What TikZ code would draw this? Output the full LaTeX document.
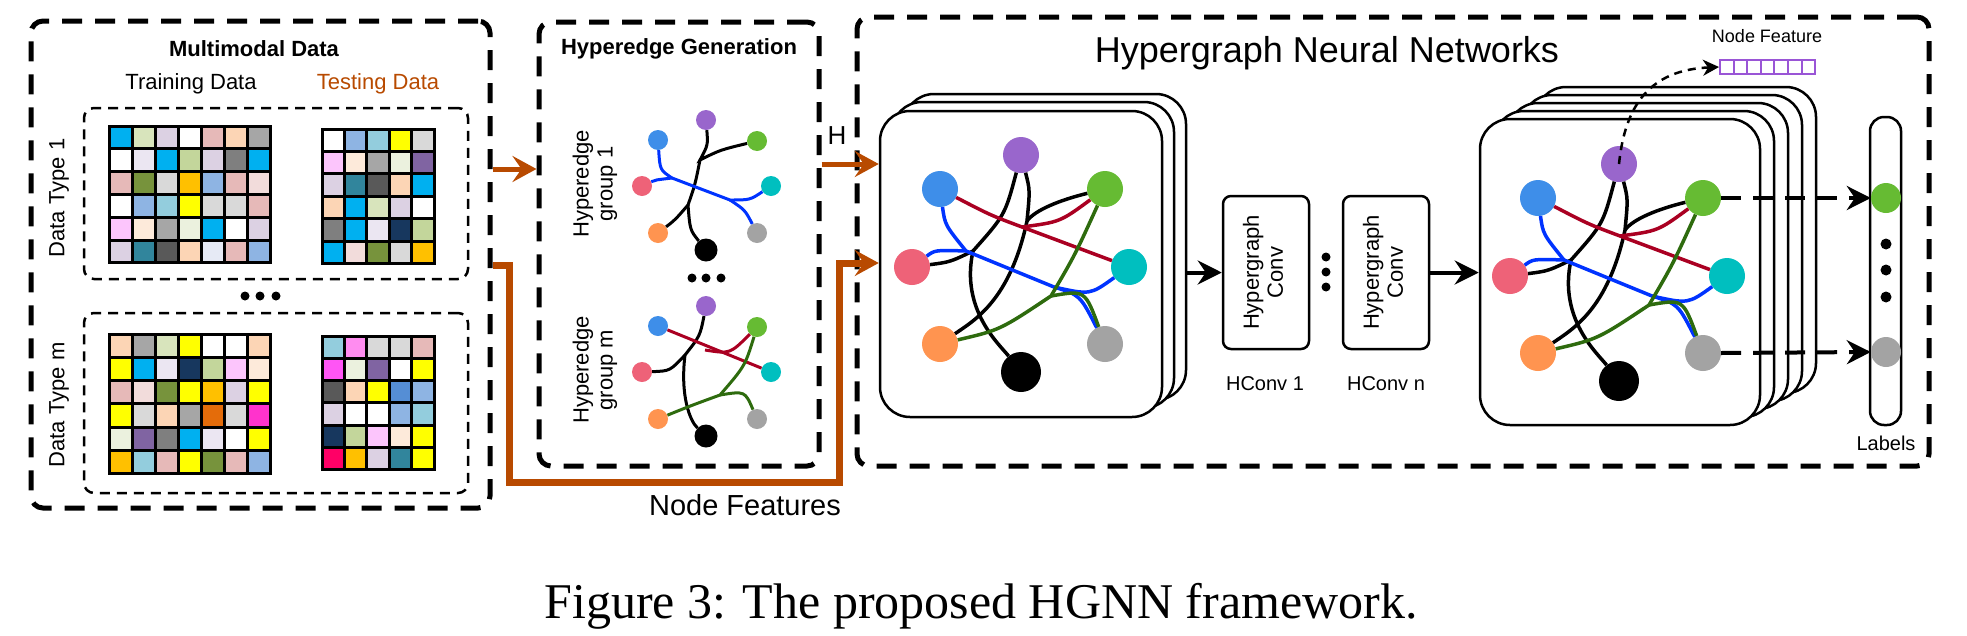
\documentclass[tikz,border=0pt]{standalone}
\usepackage{fontspec}
\setmainfont{Liberation Sans}
\newfontfamily\capfont{Liberation Serif}
\usetikzlibrary{arrows.meta}

% cell colours
\definecolor{cy}{HTML}{00B0F0}\definecolor{lgr}{HTML}{D8E4BC}\definecolor{lav}{HTML}{DCD1E3}
\definecolor{wht}{HTML}{FFFFFF}\definecolor{ros}{HTML}{E6B9B8}\definecolor{pch}{HTML}{FCD5B5}
\definecolor{gA}{HTML}{A6A6A6}\definecolor{plav}{HTML}{EBE6F2}\definecolor{sag}{HTML}{C3D69B}
\definecolor{gS}{HTML}{7F7F7F}\definecolor{oli}{HTML}{77933C}\definecolor{lgy}{HTML}{D9D9D9}
\definecolor{amb}{HTML}{FFC000}\definecolor{blu}{HTML}{8EB4E3}\definecolor{prs}{HTML}{F2DCDB}
\definecolor{lbl}{HTML}{93CDDD}\definecolor{yel}{HTML}{FFFF00}\definecolor{pnk}{HTML}{FCC5FC}
\definecolor{crm}{HTML}{FDEADA}\definecolor{pgr}{HTML}{EBF1DE}\definecolor{tea}{HTML}{31859C}
\definecolor{dg}{HTML}{595959}\definecolor{pbl}{HTML}{E6EAF5}\definecolor{pur}{HTML}{8064A2}
\definecolor{nav}{HTML}{17375E}\definecolor{org}{HTML}{E46C0A}\definecolor{mag}{HTML}{FF33CC}
\definecolor{vio}{HTML}{FF8CF0}\definecolor{mgb}{HTML}{FF55F5}\definecolor{mbl}{HTML}{558ED5}
\definecolor{crim}{HTML}{FF0066}
% graph colours
\definecolor{nBlue}{HTML}{3E8EE9}\definecolor{nPurple}{HTML}{9966CC}\definecolor{nGreen}{HTML}{66BB33}
\definecolor{nPink}{HTML}{EE6278}\definecolor{nCyan}{HTML}{00BFBF}\definecolor{nOrange}{HTML}{FF9450}
\definecolor{nGrey}{HTML}{A3A3A3}
\definecolor{eRed}{HTML}{AA0022}\definecolor{eBlue}{HTML}{0033FF}\definecolor{eGreen}{HTML}{2E6B0E}
\definecolor{arrOr}{HTML}{B84A00}\definecolor{featPur}{HTML}{9A55D6}

\newcommand{\cellgrid}[5]{%
  \foreach \row [count=\j from 0] in {#5} {
    \foreach \c [count=\i from 0] in \row {
      \filldraw[fill=\c, draw=black, line width=3]
        ({#1+\i*#3},{#2+\j*#4}) rectangle ++(#3,#4);
    }}}

% big hypergraph, prefix #1
\newcommand{\biggraph}[1]{%
  \node[bn, fill=nPurple] (#1pu) at (1021,155) {};
  \node[bn, fill=nBlue]   (#1bl) at (940,189) {};
  \node[bn, fill=nGreen]  (#1gr) at (1105,189) {};
  \node[bn, fill=nPink]   (#1pk) at (912,267) {};
  \node[bn, fill=nCyan]   (#1cy) at (1129,267) {};
  \node[bn, fill=nOrange] (#1or) at (940,344) {};
  \node[bn, fill=nGrey]   (#1gy) at (1105,344) {};
  \node[bn, fill=black, minimum size=40] (#1bk) at (1021,372) {};
  \coordinate (#1ja) at (973,251);
  \coordinate (#1jb) at (1027,221);
  \coordinate (#1jr) at (1022,227);
  \coordinate (#1jl) at (966,251);
  \coordinate (#1jm) at (1054,287);
  \coordinate (#1jg) at (1051,296);
  \begin{scope}[line width=3.5]
    \draw[black] (#1pu) .. controls (1005,215) .. (#1ja) .. controls (950,262) .. (#1pk);
    \draw[black] (#1ja) .. controls (960,310) and (1000,345) .. (#1bk);
    \draw[black] (#1gr) .. controls (1060,200) and (1035,210) .. (#1jb);
    \draw[black] (#1pu) .. controls (1030,190) .. (#1jb) .. controls (1010,300) and (975,320) .. (#1or);
    \draw[eRed] (#1bl) .. controls (990,215) .. (#1jr) -- (#1cy);
    \draw[eRed] (#1jr) .. controls (1060,222) .. (#1gr);
    \draw[eBlue] (#1bl) .. controls (945,225) .. (#1jl) .. controls (935,250) .. (#1pk);
    \draw[eBlue] (#1jl) -- (#1jm) .. controls (1090,295) .. (#1cy);
    \draw[eBlue] (#1jm) .. controls (1080,295) .. (#1gy);
    \draw[eGreen] (#1or) .. controls (1000,330) .. (#1jg) .. controls (1075,255) .. (#1gr);
    \draw[eGreen] (#1jg) .. controls (1085,290) .. (#1gy);
  \end{scope}
  \foreach \n in {pu,bl,gr,pk,cy,or,gy,bk} \node[bn, fill=none] at (#1\n) {};
}

% small hypergraph nodes, prefix #1
\newcommand{\smallnodes}[1]{%
  \node[sn, fill=nPurple] (#1pu) at (706,0) {};
  \node[sn, fill=nBlue]   (#1bl) at (658,20) {};
  \node[sn, fill=nGreen]  (#1gr) at (757,21) {};
  \node[sn, fill=nPink]   (#1pk) at (642,66) {};
  \node[sn, fill=nCyan]   (#1cy) at (771,66) {};
  \node[sn, fill=nOrange] (#1or) at (658,113) {};
  \node[sn, fill=nGrey]   (#1gy) at (757,113) {};
  \node[sn, fill=black, minimum size=23] (#1bk) at (706,130) {};
}

\tikzset{
  bn/.style={circle, inner sep=0, minimum size=36},
  sn/.style={circle, inner sep=0, minimum size=20},
  dbox/.style={draw, line width=5, dash pattern=on 20 off 13, rounded corners=12, inner sep=0},
  ibox/.style={draw, line width=2.5, dash pattern=on 10 off 7, rounded corners=10, inner sep=0},
  layer/.style={draw, fill=white, line width=2.5, rounded corners=30},
  conv/.style={draw, line width=2.5, rounded corners=8, minimum width=86, minimum height=153, inner sep=0},
  orarr/.style={arrOr, -{Stealth[length=24,width=26,inset=9]}},
  blarr/.style={black, line width=4, -{Stealth[length=24,width=24,inset=8]}},
  dots/.style={circle, fill=black, inner sep=0, minimum size=9},
}

\begin{document}
\begin{tikzpicture}[x=1pt, y=-1pt]
\useasboundingbox (0,0) rectangle (1967,635);

% ---- big dashed frames
\node[dbox, minimum width=459, minimum height=487] (mm) at (260.5,264.5) {};
\node[dbox, minimum width=280, minimum height=444] (hg) at (679,244) {};
\node[dbox, minimum width=1072, minimum height=449] (hn) at (1393,241.5) {};

% ---- multimodal data
\node[font=\fontsize{22}{26}\selectfont\bfseries] (t-mm) at (254,49) {Multimodal Data};
\node[font=\fontsize{22}{26}\selectfont] (t-tr) at (191,84) {Training Data};
\node[font=\fontsize{22}{26}\selectfont, text=arrOr] (t-te) at (378,84) {Testing Data};
\node[ibox, minimum width=384, minimum height=171] (d1) at (276,193.5) {};
\node[ibox, minimum width=384, minimum height=180] (dm) at (276,403) {};
\node[font=\fontsize{22}{26}\selectfont, rotate=90] (t-d1) at (59,198) {Data Type 1};
\node[font=\fontsize{22}{26}\selectfont, rotate=90] (t-dm) at (59,405) {Data Type m};
\foreach \x [count=\k] in {245,260,276} \node[dots] (md\k) at (\x,296) {};

\cellgrid{109}{126}{23}{22.8}{
  {cy,lgr,lav,wht,ros,pch,gA},
  {wht,plav,cy,sag,lav,gS,cy},
  {ros,oli,lgy,amb,blu,ros,prs},
  {wht,blu,lbl,yel,lgy,lgy,ros},
  {pnk,crm,gA,pgr,cy,wht,lav},
  {lav,tea,dg,pch,pbl,ros,blu}}
\cellgrid{322}{129}{22.4}{22.4}{
  {wht,blu,lbl,yel,lgy},
  {pnk,crm,gA,pgr,pur},
  {lav,tea,dg,pch,cy},
  {pch,cy,lgr,lav,wht},
  {gS,cy,plav,nav,sag},
  {cy,prs,oli,lgy,amb}}
\cellgrid{109}{334}{23}{23.3}{
  {pch,gA,lgr,yel,wht,wht,pch},
  {yel,cy,plav,nav,sag,pnk,crm},
  {ros,prs,oli,yel,amb,lav,yel},
  {yel,lgy,pch,gA,org,lgy,mag},
  {pgr,pur,gS,cy,plav,wht,yel},
  {amb,lbl,ros,yel,oli,ros,blu}}
\cellgrid{322}{336}{22.4}{22.3}{
  {lbl,vio,lgy,lgy,ros},
  {mgb,pgr,pur,wht,yel},
  {dg,pch,yel,mbl,blu},
  {lav,wht,wht,blu,lbl},
  {nav,sag,pnk,crm,yel},
  {crim,amb,lav,tea,yel}}

% ---- hyperedge generation
\node[font=\fontsize{22}{26}\selectfont\bfseries] (t-hg) at (679,49) {Hyperedge Generation};
\node[font=\fontsize{22}{24}\selectfont, rotate=90, align=center] (t-g1) at (595,184) {Hyperedge\\group 1};
\node[font=\fontsize{22}{24}\selectfont, rotate=90, align=center] (t-gm) at (595,370) {Hyperedge\\group m};
\foreach \x [count=\k] in {692,706,721} \node[dots] (hd\k) at (\x,278) {};

\begin{scope}[shift={(0,120)}]
  \smallnodes{a}
  \coordinate (aj1) at (700,160-120);
  \coordinate (aj2) at (688,205-120);
  \coordinate (aj3) at (672,178-120);
  \coordinate (aj4) at (730,200-120);
  \begin{scope}[line width=3]
    \draw (apu) .. controls (708,25) .. (aj1) .. controls (720,30) .. (agr);
    \draw (aj1) .. controls (695,65) .. (aj2) .. controls (675,100) .. (aor);
    \draw (aj2) .. controls (690,110) .. (abk);
    \draw[eBlue] (abl) .. controls (660,50) .. (aj3) .. controls (655,60) .. (apk);
    \draw[eBlue] (aj3) -- (aj4) .. controls (750,80) .. (acy);
    \draw[eBlue] (aj4) .. controls (745,90) .. (agy);
  \end{scope}
\end{scope}

\begin{scope}[shift={(0,306)}]
  \smallnodes{b}
  \coordinate (bj1) at (685,49);
  \coordinate (bj2) at (705,44);
  \coordinate (bj3) at (720,89);
  \begin{scope}[line width=3]
    \draw (bpu) .. controls (700,30) .. (bj1) .. controls (670,65) .. (bpk);
    \draw (bj1) .. controls (680,90) and (690,115) .. (bbk);
    \draw[eRed] (bbl) -- (bcy);
    \draw[eRed] (bj2) .. controls (730,48) .. (bgr);
    \draw[eGreen] (bor) .. controls (690,100) .. (bj3) .. controls (745,60) .. (bgr);
    \draw[eGreen] (bj3) .. controls (745,85) .. (bgy);
  \end{scope}
\end{scope}

% ---- HGNN
\node[font=\fontsize{36}{40}\selectfont] (t-hn) at (1327,53) {Hypergraph Neural Networks};

% stack 1
\node[layer, minimum width=282, minimum height=306] (s1c) at (1045,247) {};
\node[layer, minimum width=282, minimum height=306] (s1b) at (1033,255) {};
\node[layer, minimum width=282, minimum height=306] (s1) at (1021,264) {};
\biggraph{p}

% conv blocks
\node[conv, font=\fontsize{22}{24}\selectfont] (hc1) at (1266,272.5) {\rotatebox{90}{\begin{tabular}{@{}c@{}}Hypergraph\\Conv\end{tabular}}};
\node[conv, font=\fontsize{22}{24}\selectfont] (hcn) at (1386,272.5) {\rotatebox{90}{\begin{tabular}{@{}c@{}}Hypergraph\\Conv\end{tabular}}};
\node[font=\fontsize{20}{24}\selectfont] (t-c1) at (1265,384) {HConv 1};
\node[font=\fontsize{20}{24}\selectfont] (t-cn) at (1386,384) {HConv n};
\foreach \y [count=\k] in {257,272,287} \node[dots] (cd\k) at (1326,\y) {};

% stack 2
\foreach \k in {4,3,2,1}
  \node[layer, minimum width=280, minimum height=306] (s2l\k) at ({1620+14*\k},{272-8*\k}) {};
\node[layer, minimum width=280, minimum height=306] (s2) at (1620,272) {};
\begin{scope}[shift={(598,9)}]
  \biggraph{q}
\end{scope}

% labels column
\node[draw, line width=2.5, rounded corners=14, minimum width=31, minimum height=308, inner sep=0] (lab) at (1885.5,271) {};
\node[circle, fill=nGreen, inner sep=0, minimum size=30] (lgr) at (1886,198) {};
\node[circle, fill=nGrey, inner sep=0, minimum size=30] (lgy) at (1886,352) {};
\foreach \y [count=\k] in {244,270,297} \node[dots, minimum size=11] (ld\k) at (1886,\y) {};
\node[font=\fontsize{20}{24}\selectfont] (t-lab) at (1886,443) {Labels};

% node feature
\node[font=\fontsize{18}{22}\selectfont] (t-nf) at (1767,36) {Node Feature};
\foreach \k in {0,...,6}
  \draw[featPur, line width=2] ({1720+\k*13.6},60) rectangle ++(13.6,14);
\coordinate (fv) at (1719,67);
\draw[line width=2.5, dash pattern=on 8 off 6, -{Stealth[length=16,width=16,inset=5]}]
  (qpu.center) .. controls (1625,105) and (1650,70) .. (fv);

% ---- connectors
\coordinate (h1) at (0,169);
\coordinate (h2) at (0,164);
\coordinate (f1) at (0,265);
\coordinate (f2) at (0,263);
\draw[orarr, line width=5] (mm.east |- h1) -- (hg.west |- h1);
\draw[orarr, line width=5] (hg.east |- h2) -- (s1.west |- h2);
\node[font=\fontsize{26}{30}\selectfont] (t-h) at (837,136) {H};
\draw[orarr, line width=7, line join=miter] (mm.east |- f1) -- (509,265) -- (509,482) -- (839,482) -- (839,263) -- (s1.west |- f2);
\node[font=\fontsize{29}{32}\selectfont] (t-nfs) at (745,505) {Node Features};

\draw[blarr] (s1c.east |- hc1) -- (hc1.west);
\draw[blarr] (hcn.east) -- (s2.west |- hcn);
\draw[blarr, dash pattern=on 20 off 12] (qgr.east) -- (lgr.west);
\draw[blarr, dash pattern=on 20 off 12] (qgy.east) -- (lgy.west);

% ---- caption
\node[font=\capfont\fontsize{50}{56}\selectfont] (cap) at (981,606) {Figure 3: The proposed HGNN framework.};
\end{tikzpicture}
\end{document}
